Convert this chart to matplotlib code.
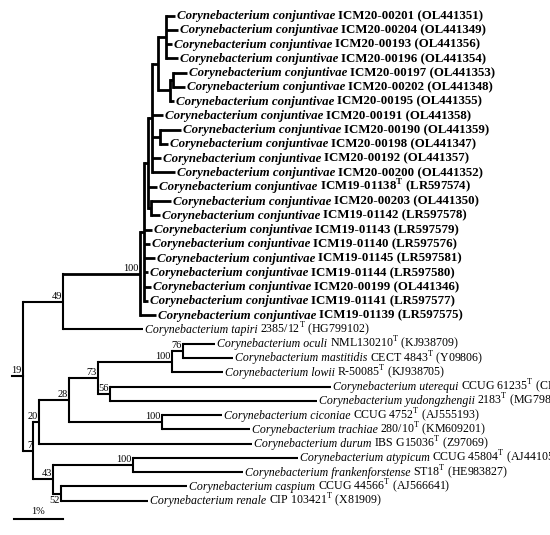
import matplotlib.pyplot as plt

plt.rcParams['font.family'] = ['Liberation Serif', 'DejaVu Serif']
plt.rcParams['mathtext.fontset'] = 'custom'
plt.rcParams['mathtext.rm'] = 'Liberation Serif'
plt.rcParams['mathtext.bf'] = 'Liberation Serif:bold'

# leaves, top to bottom
species = ['Corynebacterium conjuntivae'] * 22 + [
    'Corynebacterium tapiri', 'Corynebacterium oculi', 'Corynebacterium mastitidis',
    'Corynebacterium lowii', 'Corynebacterium uterequi', 'Corynebacterium yudongzhengii',
    'Corynebacterium ciconiae', 'Corynebacterium trachiae', 'Corynebacterium durum',
    'Corynebacterium atypicum', 'Corynebacterium frankenforstense',
    'Corynebacterium caspium', 'Corynebacterium renale']
strains = [
    'ICM20-00201 (OL441351)', 'ICM20-00204 (OL441349)', 'ICM20-00193 (OL441356)',
    'ICM20-00196 (OL441354)', 'ICM20-00197 (OL441353)', 'ICM20-00202 (OL441348)',
    'ICM20-00195 (OL441355)', 'ICM20-00191 (OL441358)', 'ICM20-00190 (OL441359)',
    'ICM20-00198 (OL441347)', 'ICM20-00192 (OL441357)', 'ICM20-00200 (OL441352)',
    r'ICM19-01138$^{\mathbf{T}}$ (LR597574)', 'ICM20-00203 (OL441350)',
    'ICM19-01142 (LR597578)', 'ICM19-01143 (LR597579)', 'ICM19-01140 (LR597576)',
    'ICM19-01145 (LR597581)', 'ICM19-01144 (LR597580)', 'ICM20-00199 (OL441346)',
    'ICM19-01141 (LR597577)', 'ICM19-01139 (LR597575)',
    r'2385/12$^{\mathrm{T}}$ (HG799102)', r'NML130210$^{\mathrm{T}}$ (KJ938709)',
    r'CECT 4843$^{\mathrm{T}}$ (Y09806)', r'R-50085$^{\mathrm{T}}$ (KJ938705)',
    r'CCUG 61235$^{\mathrm{T}}$ (CP011546)', r'2183$^{\mathrm{T}}$ (MG798929)',
    r'CCUG 4752$^{\mathrm{T}}$ (AJ555193)', r'280/10$^{\mathrm{T}}$ (KM609201)',
    r'IBS G15036$^{\mathrm{T}}$ (Z97069)', r'CCUG 45804$^{\mathrm{T}}$ (AJ441057)',
    r'ST18$^{\mathrm{T}}$ (HE983827)', r'CCUG 44566$^{\mathrm{T}}$ (AJ566641)',
    r'CIP 103421$^{\mathrm{T}}$ (X81909)']
tip_x = [175, 178, 172, 178, 187, 185, 174, 163, 181, 168, 161, 175, 157, 171, 160,
         152, 150, 155, 148, 151, 148, 156,
         143, 215, 233, 223, 331, 317, 222, 250, 252, 298, 243, 187, 148]
bold = [True] * 22 + [False] * 13

# internal nodes: (x position, support, children); ints are leaf indices
tree = (23, '19', [
    (63, '49', [
        (140, '100', [
            (144, '', [
                (148, '', [
                    (152, '', [
                        (158, '', [
                            (166, '', [0, 1, 2, 3]),
                            (170, '', [(173, '', [4, 5]), 6])]),
                        7,
                        (160, '', [8, 9]),
                        10, 11]),
                    12,
                    (151, '', [13, 14])]),
                15, 16, 17, 18, 19, 20]),
            21]),
        22]),
    (33, '7', [
        (39, '20', [
            (69, '28', [
                (98, '73', [
                    (172, '100', [(183, '76', [23, 24]), 25]),
                    (110, '56', [26, 27])]),
                (162, '100', [28, 29])]),
            30]),
        (53, '43', [
            (133, '100', [31, 32]),
            (61, '52', [33, 34])])])])

y0, dy = 15.5, 14.27

fig = plt.figure(figsize=(5.5, 5.35), dpi=100)
ax = fig.add_axes([0, 0, 1, 1])
ax.set_xlim(0, 550)
ax.set_ylim(535, 0)
ax.axis('off')


def draw(node):
    if isinstance(node, int):
        return tip_x[node], y0 + node * dy, bold[node]
    x, sup, kids = node
    pts = [draw(k) for k in kids]
    ys = [p[1] for p in pts]
    thick = all(p[2] for p in pts)
    lw = 2.0 if thick else 1.5
    for cx, cy, cb in pts:
        ax.plot([x, cx], [cy, cy], color='black', lw=2.0 if cb else 1.5,
                solid_capstyle='butt')
    ax.plot([x, x], [min(ys), max(ys)], color='black', lw=lw, solid_capstyle='projecting')
    y = (min(ys) + max(ys)) / 2
    if sup:
        if sup == '52':
            ax.text(x - 1, y + 2, sup, ha='right', va='top', fontsize=7.5)
        else:
            ax.text(x - 1, y - 1, sup, ha='right', va='bottom', fontsize=7.5)
    return x, y, thick


rx, ry, _ = draw(tree)
ax.plot([12, rx], [ry, ry], color='black', lw=1.5)

renderer = fig.canvas.get_renderer()
inv = ax.transData.inverted()
for i, (sp, st) in enumerate(zip(species, strains)):
    w = 'bold' if bold[i] else 'normal'
    fs = 9.3 if bold[i] else 8.6
    yb = y0 + i * dy + 3.5
    t = ax.text(tip_x[i] + 2, yb, sp, fontsize=fs, style='italic',
                weight=w, ha='left', va='baseline')
    x1 = inv.transform(t.get_window_extent(renderer).get_points())[1][0]
    ax.text(x1 + 2.5, yb, st, fontsize=fs, weight=w, ha='left', va='baseline')

# scale bar
ax.plot([14, 63], [519, 519], color='black', lw=1.5)
ax.text(38.5, 516, '1%', ha='center', va='bottom', fontsize=7.5)

fig.savefig('out.png', dpi=100)
